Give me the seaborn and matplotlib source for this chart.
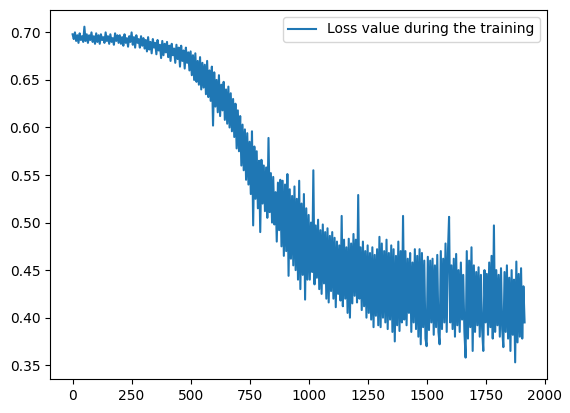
import numpy as np
import pandas as pd
from matplotlib import pyplot as plt
import seaborn as sns

# loss, one value every 5 iterations
loss_0_500 = [
    0.698, 0.693, 0.700, 0.691, 0.697, 0.689, 0.699, 0.692, 0.696, 0.690, 0.706, 0.691, 0.698, 0.689, 0.697, 0.692, 0.700, 0.690, 0.696, 0.688,
    0.699, 0.690, 0.697, 0.688, 0.698, 0.692, 0.695, 0.689, 0.700, 0.691, 0.696, 0.688, 0.698, 0.690, 0.694, 0.687, 0.699, 0.691, 0.697, 0.689,
    0.697, 0.688, 0.695, 0.686, 0.698, 0.689, 0.694, 0.685, 0.696, 0.690, 0.700, 0.687, 0.695, 0.684, 0.697, 0.689, 0.693, 0.684, 0.696, 0.686,
    0.694, 0.683, 0.692, 0.680, 0.695, 0.682, 0.690, 0.678, 0.693, 0.684, 0.689, 0.677, 0.692, 0.681, 0.687, 0.673, 0.691, 0.676, 0.688, 0.679,
    0.690, 0.674, 0.686, 0.670, 0.688, 0.676, 0.683, 0.668, 0.687, 0.672, 0.684, 0.664, 0.686, 0.670, 0.681, 0.662, 0.684, 0.668, 0.679, 0.660,
]
loss_500_1000 = [
    0.680, 0.655, 0.676, 0.650, 0.678, 0.648, 0.670, 0.645, 0.674, 0.640, 0.668, 0.642, 0.666, 0.635, 0.670, 0.632, 0.660, 0.628, 0.664, 0.602,
    0.658, 0.622, 0.650, 0.616, 0.655, 0.612, 0.645, 0.618, 0.648, 0.608, 0.640, 0.604, 0.643, 0.600, 0.636, 0.596, 0.630, 0.590, 0.625, 0.578,
    0.618, 0.575, 0.612, 0.560, 0.603, 0.555, 0.598, 0.545, 0.594, 0.540, 0.585, 0.530, 0.596, 0.497, 0.580, 0.525, 0.575, 0.515, 0.565, 0.490,
    0.566, 0.520, 0.560, 0.512, 0.558, 0.505, 0.589, 0.511, 0.552, 0.500, 0.548, 0.498, 0.532, 0.480, 0.542, 0.492, 0.545, 0.475, 0.544, 0.465,
    0.540, 0.470, 0.551, 0.444, 0.535, 0.462, 0.528, 0.455, 0.538, 0.450, 0.525, 0.440, 0.544, 0.430, 0.520, 0.445, 0.530, 0.419, 0.515, 0.440,
]
loss_1000_1500 = [
    0.508, 0.440, 0.500, 0.448, 0.555, 0.435, 0.497, 0.442, 0.503, 0.430, 0.492, 0.425, 0.498, 0.436, 0.490, 0.420, 0.494, 0.416, 0.486, 0.428,
    0.490, 0.420, 0.484, 0.411, 0.480, 0.425, 0.476, 0.418, 0.507, 0.412, 0.482, 0.420, 0.474, 0.405, 0.483, 0.400, 0.478, 0.415, 0.488, 0.423,
    0.482, 0.416, 0.529, 0.420, 0.474, 0.408, 0.480, 0.412, 0.470, 0.400, 0.476, 0.405, 0.468, 0.398, 0.474, 0.390, 0.466, 0.402, 0.472, 0.392,
    0.485, 0.390, 0.478, 0.400, 0.470, 0.395, 0.482, 0.388, 0.468, 0.398, 0.476, 0.385, 0.472, 0.375, 0.465, 0.392, 0.480, 0.386, 0.470, 0.395,
    0.507, 0.398, 0.470, 0.392, 0.462, 0.405, 0.468, 0.385, 0.458, 0.395, 0.472, 0.388, 0.465, 0.380, 0.472, 0.372, 0.468, 0.390, 0.460, 0.378,
]
loss_1500_end = [
    0.370, 0.464, 0.387, 0.460, 0.395, 0.462, 0.382, 0.455, 0.390, 0.466, 0.385, 0.372, 0.470, 0.388, 0.462, 0.395, 0.478, 0.385, 0.468, 0.506,
    0.395, 0.455, 0.388, 0.462, 0.380, 0.467, 0.392, 0.450, 0.385, 0.458, 0.398, 0.445, 0.385, 0.358, 0.470, 0.378, 0.460, 0.390, 0.474, 0.365,
    0.455, 0.385, 0.448, 0.392, 0.453, 0.380, 0.445, 0.388, 0.365, 0.450, 0.395, 0.446, 0.382, 0.458, 0.390, 0.465, 0.378, 0.497, 0.385, 0.450,
    0.392, 0.445, 0.380, 0.452, 0.388, 0.369, 0.448, 0.385, 0.455, 0.378, 0.442, 0.365, 0.450, 0.382, 0.440, 0.353, 0.459, 0.374, 0.446, 0.380,
    0.452, 0.378, 0.433, 0.395,
]

loss = loss_0_500 + loss_500_1000 + loss_1000_1500 + loss_1500_end
step = 5
iterations = [i * step for i in range(len(loss))]

df = pd.DataFrame({'iteration': iterations, 'loss': loss})

fig = plt.figure(figsize=(5.7, 4.13), dpi=100)
ax = fig.add_subplot(111)
fig.subplots_adjust(left=0.0877, right=0.96, bottom=0.082, top=0.976)

sns.lineplot(data=df, x='iteration', y='loss', ax=ax, label='Loss value during the training')

ax.set_xlabel('')
ax.set_ylabel('')
ax.set_xticks([0, 250, 500, 750, 1000, 1250, 1500, 1750, 2000])
ax.legend(loc='upper right')

plt.savefig('out.png', dpi=100)
